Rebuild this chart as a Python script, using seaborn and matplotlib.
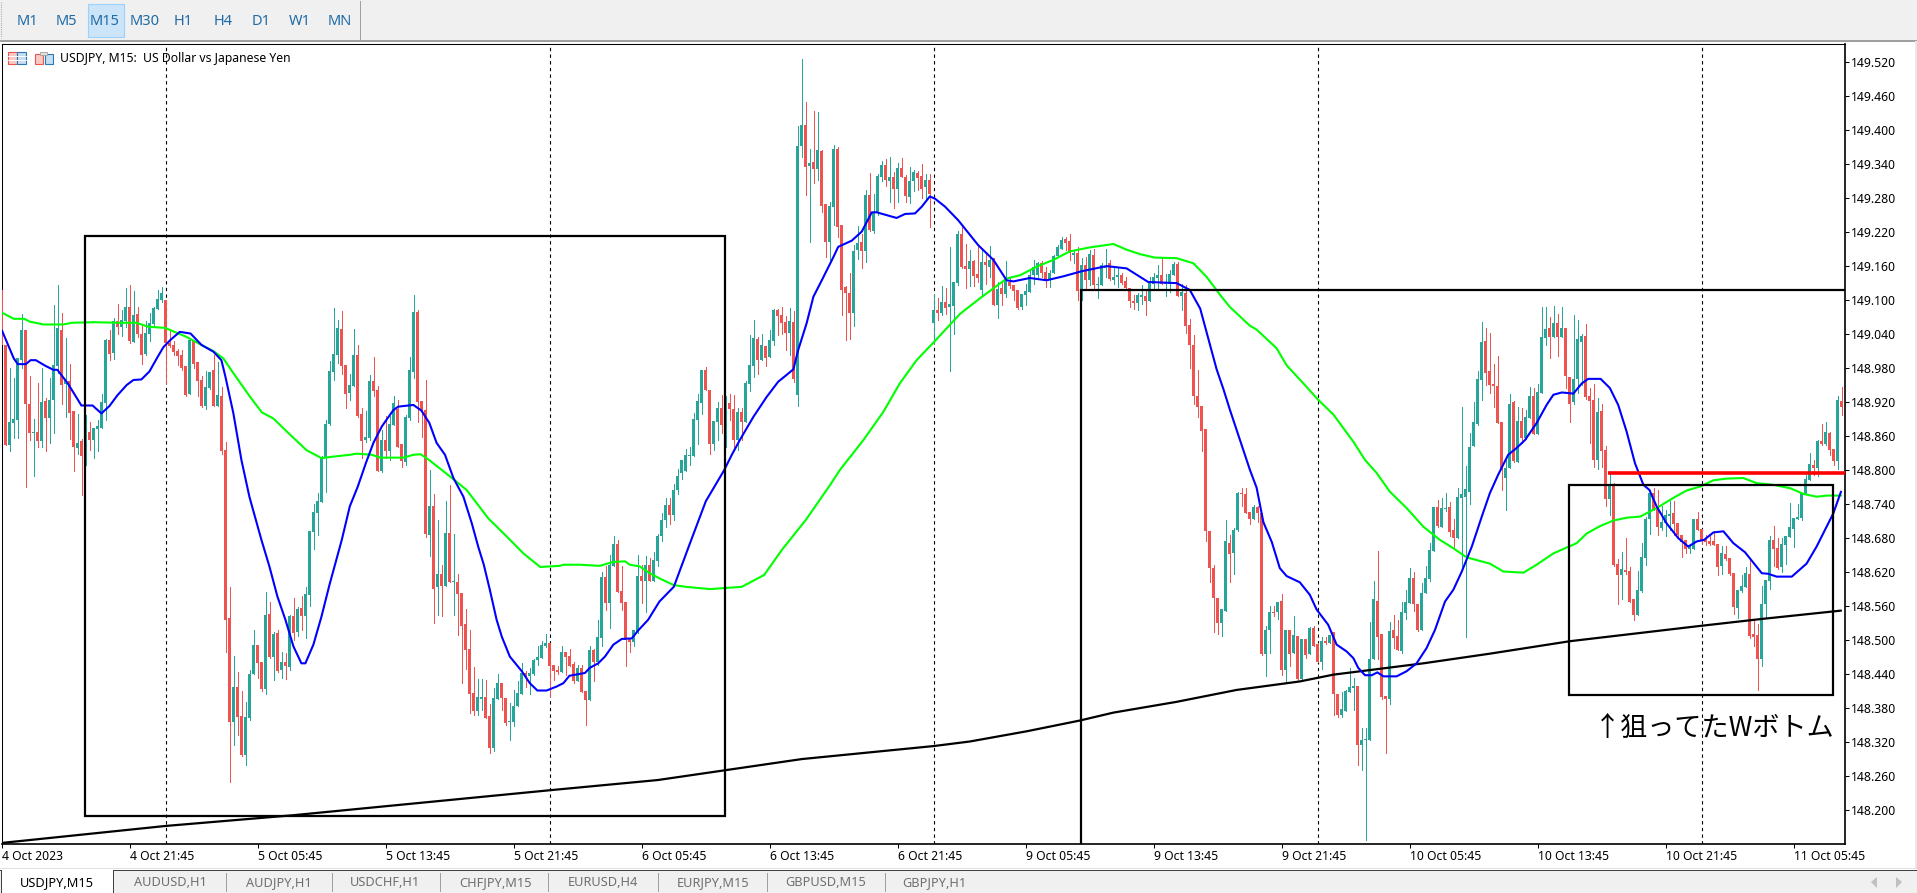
#!/usr/bin/env python3
import numpy as np
import matplotlib
matplotlib.use("Agg")
import matplotlib.pyplot as plt
from matplotlib.patches import Rectangle
import seaborn as sns

# USDJPY M15 candles
opens = [
    149.118,149.021,148.845,148.884,148.888,148.994,149.048,148.917,148.866,148.867,
    148.851,148.922,148.892,148.923,148.984,149.048,148.952,148.957,148.904,148.839,
    148.851,148.824,148.867,148.853,148.873,148.874,148.918,149.030,149.007,149.063,
    149.052,149.063,149.088,149.026,149.075,149.040,149.005,149.040,149.058,149.085,
    149.100,149.100,149.025,149.020,149.010,149.003,148.984,148.934,149.028,148.991,
    148.959,148.913,148.945,148.977,148.913,148.931,148.835,148.539,148.356,148.418,
    148.366,148.297,148.362,148.440,148.492,148.461,148.414,148.546,148.471,148.513,
    148.447,148.461,148.453,148.543,148.514,148.557,148.543,148.580,148.691,148.725,
    148.744,148.821,148.881,148.974,149.003,149.049,148.986,148.936,148.949,149.003,
    148.899,148.853,148.857,148.957,148.942,148.799,148.853,148.834,148.880,148.908,
    148.846,148.815,148.892,148.973,149.079,148.922,148.906,148.686,148.737,148.594,
    148.617,148.596,148.689,148.602,148.603,148.583,148.529,148.485,148.407,148.374,
    148.396,148.400,148.366,148.310,148.396,148.424,148.398,148.356,148.356,148.383,
    148.405,148.442,148.437,148.441,148.464,148.469,148.490,148.494,148.456,148.448,
    148.444,148.479,148.472,148.458,148.427,148.451,148.411,148.395,148.483,148.461,
    148.503,148.612,148.566,148.631,148.670,148.587,148.568,148.504,148.497,148.515,
    148.613,148.605,148.633,148.605,148.640,148.684,148.712,148.738,148.720,148.765,
    148.794,148.799,148.825,148.825,148.888,148.919,148.976,148.942,148.846,148.885,
    148.909,148.880,148.918,148.908,148.853,148.902,148.885,148.952,148.984,149.031,
    148.994,149.019,148.999,149.028,149.082,149.074,149.061,149.042,149.061,148.932,
    149.372,149.409,149.336,149.343,149.331,149.363,149.269,149.202,149.264,149.366,
    149.232,149.123,149.112,149.077,149.188,149.202,149.186,149.285,149.222,149.253,
    149.317,149.338,149.310,149.317,149.296,149.333,149.317,149.282,149.310,149.324,
    149.319,149.299,149.312,149.059,149.082,149.077,149.096,149.088,149.089,149.130,
    149.216,149.160,149.155,149.169,149.146,149.118,149.167,149.159,149.174,149.091,
    149.121,149.110,149.132,149.126,149.118,149.088,149.109,149.114,149.144,149.145,
    149.166,149.149,149.135,149.148,149.178,149.190,149.207,149.204,149.179,149.183,
    149.116,149.162,149.135,149.179,149.126,149.126,149.156,149.165,149.136,149.140,
    149.144,149.133,149.121,149.098,149.095,149.106,149.108,149.099,149.129,149.139,
    149.144,149.129,149.129,149.144,149.163,149.107,149.113,149.056,149.021,148.931,
    148.914,148.872,148.693,148.628,148.575,148.530,148.552,148.672,148.653,148.694,
    148.760,148.758,148.726,148.713,148.734,148.725,148.476,148.517,148.550,148.549,
    148.569,148.447,148.517,148.478,148.508,148.432,148.502,148.476,148.521,148.493,
    148.462,148.499,148.495,148.515,148.405,148.367,148.375,148.409,148.416,148.419,
    148.315,148.323,148.323,148.466,148.569,148.511,148.402,148.396,148.518,148.508,
    148.481,148.548,148.566,148.610,148.564,148.518,148.583,148.608,148.658,148.735,
    148.700,148.732,148.735,148.695,148.680,148.751,148.753,148.762,148.843,148.882,
    148.959,149.028,148.975,148.952,148.949,148.885,148.786,148.804,148.920,148.815,
    148.887,148.857,148.892,148.931,148.864,148.936,149.033,149.051,149.035,149.060,
    149.035,149.051,148.965,148.920,148.960,149.026,149.037,148.931,148.924,148.818,
    148.905,148.836,148.749,148.774,148.635,148.615,148.624,148.622,148.573,148.545,
    148.587,148.645,148.714,148.760,148.733,148.698,148.707,148.719,148.725,148.707,
    148.686,148.677,148.661,148.661,148.714,148.696,148.677,148.675,148.675,148.670,
    148.631,148.652,148.645,148.619,148.557,148.587,148.594,148.617,148.511,148.509,
    148.467,148.564,148.605,148.677,148.663,148.629,148.668,148.682,148.696,148.714,
    148.716,148.758,148.783,148.809,148.804,148.852,148.846,148.866,148.838,148.816,
    148.922,
]
closes = [
    149.021,148.845,148.885,148.890,148.997,149.048,148.917,148.866,148.867,148.851,
    148.920,148.892,148.924,148.985,149.050,148.950,148.959,148.900,148.841,148.848,
    148.824,148.865,148.853,148.874,148.878,148.920,149.030,149.005,149.063,149.053,
    149.065,149.088,149.028,149.074,149.040,149.003,149.042,149.059,149.086,149.102,
    149.112,149.024,149.019,149.008,149.001,148.980,148.932,149.030,148.987,148.957,
    148.913,148.947,148.973,148.913,148.932,148.834,148.536,148.355,148.418,148.364,
    148.297,148.365,148.440,148.492,148.459,148.414,148.544,148.470,148.511,148.446,
    148.461,148.454,148.543,148.513,148.555,148.543,148.581,148.693,148.726,148.745,
    148.821,148.881,148.975,149.005,149.051,148.984,148.935,148.950,149.003,148.896,
    148.852,148.858,148.957,148.940,148.799,148.853,148.834,148.882,148.918,148.841,
    148.816,148.894,148.977,149.079,148.920,148.906,148.688,148.737,148.591,148.617,
    148.596,148.689,148.603,148.603,148.582,148.525,148.483,148.405,148.374,148.400,
    148.400,148.363,148.310,148.398,148.424,148.398,148.354,148.358,148.384,148.407,
    148.442,148.436,148.442,148.465,148.470,148.492,148.495,148.455,148.446,148.444,
    148.479,148.471,148.455,148.427,148.451,148.409,148.395,148.483,148.462,148.506,
    148.612,148.566,148.633,148.670,148.585,148.566,148.501,148.497,148.517,148.613,
    148.605,148.633,148.605,148.642,148.684,148.712,148.738,148.720,148.765,148.790,
    148.817,148.826,148.827,148.891,148.922,148.976,148.941,148.846,148.887,148.909,
    148.880,148.918,148.908,148.853,148.902,148.885,148.954,148.985,149.033,148.994,
    149.021,148.998,149.029,149.082,149.072,149.059,149.042,149.063,148.961,149.372,
    149.409,149.335,149.342,149.331,149.365,149.266,149.202,149.266,149.366,149.229,
    149.118,149.112,149.077,149.186,149.201,149.186,149.285,149.223,149.255,149.319,
    149.338,149.312,149.317,149.296,149.333,149.317,149.283,149.310,149.326,149.315,
    149.296,149.312,149.287,149.082,149.077,149.096,149.086,149.093,149.132,149.216,
    149.158,149.155,149.169,149.142,149.139,149.167,149.162,149.171,149.091,149.119,
    149.111,149.135,149.125,149.116,149.086,149.110,149.116,149.144,149.159,149.165,
    149.147,149.135,149.147,149.178,149.193,149.206,149.201,149.183,149.183,149.116,
    149.162,149.135,149.181,149.126,149.129,149.162,149.158,149.138,149.140,149.144,
    149.130,149.121,149.098,149.095,149.109,149.109,149.098,149.130,149.140,149.144,
    149.129,149.131,149.146,149.163,149.107,149.114,149.054,149.021,148.931,148.912,
    148.869,148.692,148.628,148.575,148.530,148.554,148.674,148.652,148.694,148.760,
    148.757,148.725,148.713,148.735,148.725,148.476,148.518,148.550,148.547,148.568,
    148.447,148.517,148.476,148.509,148.432,148.502,148.474,148.521,148.490,148.462,
    148.499,148.494,148.509,148.404,148.367,148.379,148.411,148.418,148.419,148.315,
    148.324,148.326,148.467,148.573,148.505,148.400,148.396,148.516,148.504,148.483,
    148.550,148.568,148.610,148.564,148.517,148.583,148.610,148.659,148.735,148.702,
    148.733,148.733,148.691,148.680,148.753,148.758,148.767,148.841,148.885,148.961,
    149.026,148.971,148.950,148.949,148.883,148.800,148.804,148.917,148.816,148.887,
    148.857,148.894,148.931,148.864,148.938,149.035,149.049,149.035,149.060,149.035,
    149.051,148.966,148.917,148.961,149.032,149.037,148.929,148.922,148.818,148.903,
    148.834,148.749,148.774,148.633,148.615,148.626,148.621,148.568,148.545,148.589,
    148.647,148.714,148.760,148.732,148.700,148.709,148.721,148.723,148.705,148.686,
    148.673,148.661,148.668,148.714,148.695,148.675,148.673,148.670,148.668,148.629,
    148.654,148.643,148.617,148.559,148.589,148.596,148.619,148.508,148.506,148.467,
    148.564,148.606,148.677,148.661,148.628,148.670,148.684,148.700,148.716,148.718,
    148.760,148.785,148.811,148.804,148.852,148.846,148.868,148.836,148.816,148.924,
    148.912,
]
highs = [
    149.134,149.021,148.980,148.962,148.997,149.075,149.048,148.966,148.891,148.953,
    148.981,148.927,148.962,149.091,149.127,149.078,149.034,148.987,148.904,148.899,
    148.855,148.897,148.885,148.874,148.888,148.934,149.031,149.048,149.068,149.093,
    149.082,149.121,149.127,149.116,149.088,149.056,149.063,149.077,149.088,149.118,
    149.124,149.100,149.047,149.028,149.014,149.012,148.984,149.032,149.030,148.991,
    148.966,148.975,148.974,149.003,148.991,148.947,148.850,148.594,148.472,148.444,
    148.410,148.391,148.447,148.518,148.492,148.461,148.584,148.568,148.514,148.518,
    148.479,148.477,148.544,148.574,148.558,148.577,148.594,148.693,148.740,148.759,
    148.824,148.888,148.993,149.086,149.065,149.081,148.986,148.970,149.049,149.021,
    148.910,148.905,148.968,148.999,148.949,148.871,148.895,148.895,148.930,148.924,
    148.846,148.898,148.999,149.109,149.083,148.922,148.959,148.800,148.758,148.712,
    148.633,148.746,148.774,148.688,148.617,148.583,148.555,148.518,148.452,148.432,
    148.432,148.430,148.388,148.415,148.441,148.424,148.398,148.389,148.412,148.427,
    148.459,148.445,148.451,148.467,148.489,148.499,148.511,148.494,148.456,148.455,
    148.489,148.479,148.484,148.461,148.456,148.456,148.411,148.489,148.484,148.536,
    148.621,148.631,148.651,148.684,148.677,148.631,148.568,148.504,148.517,148.650,
    148.633,148.649,148.645,148.656,148.688,148.725,148.750,148.750,148.775,148.802,
    148.817,148.838,148.840,148.901,148.935,148.976,148.982,148.942,148.887,148.921,
    148.932,148.931,148.935,148.932,148.909,148.909,148.958,149.038,149.065,149.035,
    149.040,149.019,149.047,149.085,149.085,149.088,149.072,149.086,149.081,149.407,
    149.526,149.449,149.366,149.433,149.432,149.365,149.269,149.273,149.373,149.370,
    149.232,149.125,149.148,149.197,149.231,149.216,149.294,149.324,149.287,149.322,
    149.345,149.349,149.352,149.326,149.342,149.350,149.320,149.335,149.329,149.328,
    149.340,149.322,149.322,149.109,149.103,149.125,149.121,149.193,149.132,149.222,
    149.232,149.199,149.188,149.171,149.197,149.188,149.182,149.195,149.174,149.132,
    149.132,149.169,149.141,149.126,149.118,149.110,149.129,149.153,149.171,149.168,
    149.169,149.159,149.153,149.179,149.197,149.212,149.212,149.216,149.188,149.194,
    149.174,149.176,149.188,149.190,149.141,149.165,149.190,149.171,149.156,149.159,
    149.147,149.141,149.121,149.109,149.112,149.126,149.119,149.141,149.147,149.162,
    149.174,149.146,149.153,149.168,149.167,149.129,149.127,149.067,149.039,148.977,
    148.914,148.872,148.693,148.632,148.575,148.554,148.712,148.686,148.698,148.762,
    148.769,148.769,148.726,148.738,148.737,148.725,148.524,148.561,148.561,148.568,
    148.582,148.517,148.517,148.543,148.508,148.502,148.502,148.523,148.524,148.495,
    148.506,148.506,148.509,148.515,148.405,148.409,148.412,148.451,148.433,148.419,
    148.345,148.345,148.532,148.605,148.658,148.511,148.402,148.532,148.544,148.536,
    148.568,148.589,148.628,148.621,148.564,148.601,148.630,148.672,148.735,148.748,
    148.751,148.760,148.744,148.713,148.769,148.912,148.808,148.865,148.920,148.975,
    149.062,149.051,149.042,148.987,149.002,148.885,148.821,148.935,148.922,148.912,
    148.909,148.906,148.947,148.945,148.952,149.088,149.088,149.070,149.090,149.076,
    149.088,149.051,148.965,149.074,149.065,149.040,149.058,148.945,148.952,148.927,
    148.917,148.843,148.798,148.777,148.643,148.656,148.681,148.629,148.573,148.622,
    148.672,148.718,148.765,148.769,148.765,148.737,148.730,148.746,148.746,148.707,
    148.686,148.677,148.668,148.714,148.726,148.696,148.686,148.683,148.692,148.670,
    148.666,148.666,148.645,148.619,148.589,148.615,148.629,148.642,148.536,148.529,
    148.596,148.606,148.684,148.702,148.681,148.681,148.684,148.742,148.716,148.740,
    148.760,148.792,148.830,148.818,148.853,148.882,148.885,148.868,148.838,148.931,
    148.947,
]
lows = [
    149.021,148.845,148.834,148.856,148.856,148.981,148.771,148.853,148.790,148.841,
    148.841,148.833,148.848,148.866,148.971,148.917,148.894,148.855,148.798,148.828,
    148.756,148.809,148.835,148.822,148.833,148.874,148.888,148.994,148.996,149.041,
    149.037,149.053,149.025,149.026,149.035,148.987,149.003,149.028,149.056,149.084,
    149.097,148.953,149.017,149.003,148.985,148.977,148.931,148.934,148.980,148.931,
    148.911,148.908,148.944,148.913,148.913,148.828,148.479,148.249,148.315,148.333,
    148.296,148.280,148.359,148.440,148.433,148.410,148.405,148.468,148.430,148.443,
    148.433,148.431,148.447,148.500,148.507,148.518,148.503,148.560,148.661,148.686,
    148.744,148.762,148.880,148.959,148.989,148.970,148.910,148.924,148.949,148.893,
    148.822,148.849,148.853,148.931,148.799,148.797,148.821,148.817,148.880,148.841,
    148.806,148.809,148.889,148.962,148.885,148.859,148.682,148.648,148.531,148.545,
    148.543,148.596,148.603,148.545,148.509,148.424,148.449,148.371,148.368,148.368,
    148.376,148.363,148.300,148.304,148.396,148.377,148.351,148.324,148.348,148.383,
    148.404,148.418,148.404,148.439,148.456,148.468,148.488,148.399,148.430,148.441,
    148.443,148.439,148.455,148.425,148.427,148.408,148.351,148.395,148.427,148.456,
    148.490,148.553,148.522,148.631,148.585,148.553,148.455,148.479,148.490,148.512,
    148.565,148.550,148.605,148.605,148.631,148.675,148.700,148.705,148.712,148.758,
    148.785,148.799,148.809,148.825,148.846,148.899,148.941,148.828,148.835,148.853,
    148.865,148.841,148.888,148.841,148.835,148.853,148.885,148.940,148.965,148.969,
    148.994,148.984,148.999,149.021,149.038,149.041,149.012,149.003,148.955,148.913,
    149.353,149.285,149.202,149.306,149.312,149.255,149.176,149.171,149.232,149.211,
    149.074,149.029,149.031,149.054,149.172,149.156,149.167,149.222,149.218,149.250,
    149.310,149.301,149.273,149.262,149.273,149.317,149.273,149.271,149.292,149.294,
    149.280,149.276,149.229,149.024,149.065,149.074,149.075,148.975,149.040,149.126,
    149.156,149.121,149.125,149.125,149.132,149.109,149.129,149.140,149.091,149.068,
    149.091,149.106,149.121,149.100,149.085,149.084,149.091,149.114,149.129,149.141,
    149.141,149.124,149.124,149.148,149.178,149.190,149.188,149.171,149.165,149.100,
    149.100,149.118,149.126,149.118,149.103,149.126,149.141,149.135,149.129,149.124,
    149.129,149.118,149.088,149.085,149.082,149.094,149.074,149.099,149.118,149.118,
    149.129,149.107,149.115,149.144,149.107,149.082,149.042,148.980,148.917,148.893,
    148.833,148.674,148.602,148.515,148.510,148.508,148.552,148.602,148.616,148.692,
    148.737,148.725,148.704,148.713,148.708,148.474,148.436,148.478,148.542,148.537,
    148.439,148.427,148.454,148.477,148.430,148.430,148.468,148.476,148.490,148.462,
    148.449,148.493,148.495,148.367,148.365,148.365,148.375,148.408,148.377,148.280,
    148.270,148.147,148.323,148.466,148.466,148.396,148.300,148.388,148.486,148.483,
    148.477,148.538,148.565,148.552,148.516,148.518,148.583,148.605,148.658,148.699,
    148.700,148.727,148.683,148.662,148.680,148.627,148.506,148.740,148.842,148.880,
    148.924,148.950,148.936,148.911,148.883,148.764,148.730,148.804,148.815,148.815,
    148.848,148.855,148.892,148.864,148.864,148.936,149.021,148.998,149.035,149.002,
    149.035,148.945,148.885,148.917,148.936,148.950,148.926,148.848,148.806,148.802,
    148.806,148.737,148.721,148.631,148.564,148.573,148.617,148.568,148.536,148.545,
    148.585,148.633,148.688,148.730,148.686,148.695,148.684,148.695,148.686,148.684,
    148.646,148.653,148.653,148.661,148.695,148.671,148.668,148.668,148.668,148.615,
    148.617,148.642,148.615,148.546,148.539,148.585,148.594,148.504,148.490,148.412,
    148.454,148.539,148.591,148.630,148.626,148.621,148.635,148.682,148.665,148.714,
    148.712,148.758,148.783,148.792,148.789,148.845,148.845,148.827,148.809,148.802,
    148.897,
]

# moving averages, read at knots along each curve
blue_x = [0,3,4,6,7.2,8.5,10.9,12.9,13.9,16.5,19.9,22.7,24.9,26.9,28.9,31.2,32.9,34.9,36.9,38.9,
          40.4,42.2,44.5,47.2,49.9,52.9,54.9,55.9,57.9,59.9,61.9,64.9,66.9,68.9,70.9,72.9,74.9,75.9,77.9,79.9,
          81.9,85,87,89,91,92.9,95,97.9,99.1,102.9,104.9,106.9,108.7,110.8,112.9,115.4,117.5,119.1,120.5,122,
          123.7,125,127,130,132,133.9,136.2,138.7,140.4,141.9,145.8,147,149.1,150.8,152.9,155,157.5,159.1,161.6,164.4,
          168,172,176,180.6,182.5,184.5,187.9,191.2,194.1,196.2,197.9,199.1,201.2,202.9,205,207.9,209.1,212.5,215,217.5,
          218.7,223.7,225.8,228.3,230,232,233.3,235.8,239.1,244.1,247.9,251.2,252.9,257,261.2,265.4,270,276.2,281.2,286.6,
          293.7,297,299.6,303.7,305.4,307,309.5,312,313.7,315.4,317.5,319.5,321.2,324.5,327,328.7,331.6,333.7,336.2,337.9,
          339.1,340.8,342.5,343.9,345.4,348.7,351.2,353.7,356.2,358.3,360.8,362.9,365,367.5,370,372,374.1,376.6,378.7,380.8,
          383.7,386.2,387.9,390,392.9,395,396.6,399.7,402,404.1,406.2,408.3,410.4,411.9,413.7,416.2,419.1,421.6,423.7,425.6,
          427.9,430.4,432.9,435.8,440,441.6,443.7,447.5,451.2,453.7,456.2,457.9,459.8]
blue_y = [149.047,148.997,148.987,148.987,148.994,148.994,148.984,148.977,148.977,148.953,148.914,148.914,148.900,148.913,148.932,148.950,148.959,148.960,148.974,148.999,
          149.017,149.030,149.044,149.041,149.021,149.009,148.994,148.965,148.900,148.818,148.753,148.677,148.630,148.577,148.536,148.489,148.459,148.459,148.492,148.541,
          148.597,148.677,148.736,148.771,148.812,148.848,148.877,148.906,148.912,148.915,148.905,148.883,148.848,148.827,148.786,148.753,148.706,148.665,148.633,148.589,
          148.536,148.506,148.471,148.445,148.424,148.411,148.411,148.418,148.424,148.437,148.442,148.451,148.459,148.471,148.492,148.502,148.503,148.517,148.536,148.568,
          148.594,148.670,148.745,148.800,148.827,148.853,148.894,148.929,148.956,148.968,148.978,149.012,149.059,149.106,149.135,149.176,149.194,149.205,149.221,149.255,
          149.255,149.245,149.252,149.253,149.265,149.283,149.279,149.265,149.241,149.197,149.171,149.135,149.133,149.139,149.135,149.142,149.151,149.160,149.156,149.132,
          149.130,149.118,149.085,148.978,148.943,148.907,148.854,148.801,148.769,148.708,148.673,148.627,148.613,148.602,148.580,148.554,148.527,148.492,148.480,148.468,
          148.451,148.438,148.438,148.443,148.436,148.436,148.445,148.459,148.486,148.518,148.568,148.589,148.621,148.665,148.718,148.759,148.792,148.827,148.839,148.853,
          148.883,148.915,148.933,148.937,148.935,148.953,148.961,148.961,148.945,148.915,148.868,148.812,148.774,148.765,148.736,148.706,148.680,148.665,148.674,148.677,
          148.690,148.692,148.671,148.655,148.618,148.617,148.612,148.612,148.635,148.665,148.700,148.724,148.762]

green_x = [0,3,5.6,7,10.4,15.4,17.5,22.9,29.5,33.7,36.6,40.8,46.2,50.4,52.9,55.4,57.9,62,65,67.9,
           72,76.2,80,81.9,87,88.7,92.5,94.6,100.4,102.9,104.7,106.6,110.4,114.1,116.2,121.6,126.2,130.4,134.6,139.5,
           140.4,144.5,149.5,152.9,155.8,157,159.5,162,164.4,168,171,177,185,190.6,195,201,207,209.5,215.4,220.4,
           224.5,228.7,232.9,239.6,244.5,251.2,254.6,258.7,262.9,267,272,277.9,281.2,284.6,288.3,293.7,297.9,301.2,304.6,307,
           312,313.7,318.7,321.2,325.4,329.1,332.9,337.9,340.8,343.7,347,351.2,355.4,359.5,362.9,366.2,372,375.4,380.4,383.7,
           387.9,393.7,396.2,399.5,402.9,406.2,409.6,413.7,417.9,421.2,424.6,427.9,431.2,435.4,438.7,442.9,447.1,450.4,453.7,456.2,459.8]
green_y = [149.078,149.067,149.067,149.062,149.057,149.057,149.060,149.061,149.060,149.060,149.053,149.051,149.035,149.019,149.010,148.997,148.971,148.930,148.902,148.891,
           148.863,148.835,148.821,148.823,148.827,148.829,148.827,148.822,148.822,148.827,148.828,148.819,148.798,148.777,148.765,148.715,148.683,148.653,148.629,148.631,
           148.633,148.633,148.631,148.638,148.639,148.633,148.630,148.618,148.609,148.597,148.594,148.590,148.594,148.615,148.659,148.712,148.773,148.800,148.853,148.903,
           148.953,148.994,149.025,149.076,149.103,149.138,149.144,149.159,149.171,149.186,149.193,149.199,149.189,149.181,149.175,149.174,149.165,149.141,149.109,149.088,
           149.055,149.048,149.015,148.985,148.953,148.924,148.898,148.850,148.818,148.795,148.762,148.733,148.700,148.677,148.662,148.646,148.635,148.621,148.619,148.633,
           148.653,148.671,148.688,148.701,148.711,148.716,148.718,148.733,148.751,148.764,148.771,148.782,148.785,148.786,148.777,148.774,148.768,148.758,148.753,148.755,148.755]

black_x = [0,41,73,137,164,200,233,242,256.2,269.5,277.9,293.7,308.7,324.5,332.9,355.4,372,392,424.6,439.6,459.8]
black_y = [148.142,148.172,148.191,148.235,148.253,148.290,148.313,148.321,148.339,148.358,148.372,148.391,148.412,148.427,148.439,148.459,148.476,148.498,148.525,148.537,148.552]

separator_bars = [41, 137, 233, 329, 425]
x_tick_bars = [0, 32, 64, 96, 128, 160, 192, 224, 256, 288, 320, 352, 384, 416, 448]
x_tick_labels = ["4 Oct 2023", "4 Oct 21:45", "5 Oct 05:45", "5 Oct 13:45", "5 Oct 21:45",
                 "6 Oct 05:45", "6 Oct 13:45", "6 Oct 21:45", "9 Oct 05:45", "9 Oct 13:45",
                 "9 Oct 21:45", "10 Oct 05:45", "10 Oct 13:45", "10 Oct 21:45", "11 Oct 05:45"]
y_ticks = [148.20, 148.26, 148.32, 148.38, 148.44, 148.50, 148.56, 148.62, 148.68, 148.74, 148.80, 148.86,
           148.92, 148.98, 149.04, 149.10, 149.16, 149.22, 149.28, 149.34, 149.40, 149.46, 149.52]

timeframes = ["M1", "M5", "M15", "M30", "H1", "H4", "D1", "W1", "MN"]
timeframe_px = [27, 66.5, 105, 145, 183, 223, 261, 300, 340]
tabs = ["USDJPY,M15", "AUDUSD,H1", "AUDJPY,H1", "USDCHF,H1", "CHFJPY,M15",
        "EURUSD,H4", "EURJPY,M15", "GBPUSD,M15", "GBPJPY,H1"]
tab_px = [57, 170, 279, 385, 495, 603, 713, 826, 934]
tab_seps = [113, 226, 332, 440, 548, 658, 767, 885]

UP = "#26a69a"
DOWN = "#ef5350"

sns.set_theme(style="white")
plt.rcParams["font.family"] = ["Noto Sans", "Noto Sans CJK JP", "DejaVu Sans"]

W, H = 1917, 893
fig = plt.figure(figsize=(W / 100, H / 100), dpi=100)
left, right, top, bottom = 1.5, 1845, 44, 843.5
ax = fig.add_axes([left / W, 1 - bottom / H, (right - left) / W, (bottom - top) / H])

o = np.array(opens)
c = np.array(closes)
bars = np.arange(len(o))
colors = [UP if b >= a else DOWN for a, b in zip(o, c)]

for s in separator_bars:
    ax.axvline(s, color="black", lw=0.8, ls=(0, (3, 3)), zorder=1)

ax.vlines(bars, lows, highs, colors=colors, lw=0.6, zorder=2, antialiased=False)
ax.bar(bars, np.maximum(np.abs(c - o), 0.0018), bottom=np.minimum(o, c), width=0.76,
       color=colors, linewidth=0, zorder=3, antialiased=False)

sns.lineplot(x=black_x, y=black_y, color="black", linewidth=1.6, estimator=None, ax=ax, zorder=4)
sns.lineplot(x=green_x, y=green_y, color="#00ff00", linewidth=1.5, estimator=None, ax=ax, zorder=5)
sns.lineplot(x=blue_x, y=blue_y, color="#0000ff", linewidth=1.5, estimator=None, ax=ax, zorder=6)

# hand drawn boxes on the chart
box_kw = dict(fill=False, edgecolor="black", linewidth=1.6, zorder=7)
ax.add_patch(Rectangle((20.8, 148.189), 160, 1.024, **box_kw))
ax.add_patch(Rectangle((391.8, 148.403), 66.1, 0.371, **box_kw))
ax.plot([269.7, 269.7, 461], [148.0, 149.117, 149.117], color="black", lw=1.6, zorder=7, solid_joinstyle="miter")
ax.plot([401.6, 461], [148.795, 148.795], color="#ff0000", lw=2.6, zorder=7, solid_capstyle="butt")

ax.set_xlim(-0.075, 460.8)
ax.set_ylim(148.141, 149.552)
ax.set_xlabel("")
ax.set_ylabel("")
ax.set_xticks(x_tick_bars)
ax.set_xticklabels(x_tick_labels, ha="left", fontsize=8.8, color="black")
ax.set_yticks(y_ticks)
ax.set_yticklabels([f"{v:.3f}" for v in y_ticks], fontsize=8.8, color="black")
ax.yaxis.tick_right()
ax.tick_params(axis="both", length=3, width=0.75, direction="out", color="black", pad=1.5,
               bottom=True, right=True, left=False)
for side, lw in [("top", 0.75), ("left", 0.75), ("bottom", 1.2), ("right", 1.2)]:
    ax.spines[side].set_color("black")
    ax.spines[side].set_linewidth(lw)
    ax.spines[side].set_visible(True)

# terminal window around the chart, in pixel coordinates
ui = fig.add_axes([0, 0, 1, 1], zorder=5)
ui.set_xlim(0, W)
ui.set_ylim(H, 0)
ui.axis("off")


def box(x0, y0, x1, y1, fc, ec="none", lw=0):
    ui.add_patch(Rectangle((x0, y0), x1 - x0, y1 - y0, facecolor=fc, edgecolor=ec, linewidth=lw))


box(0, 0, W, 40, "#f0f0f0")
box(0, 40, W, 41.5, "#a0a0a0")
box(87.5, 3.5, 123.5, 36.5, "#cce4f7", "#99d1ff", 0.8)
box(360, 1, 361, 40, "#a0a0a0")
ui.plot([0.7, 0.7], [2, 38], color="#b0b0b0", lw=0.8, ls=(0, (1, 1)))
for name, px in zip(timeframes, timeframe_px):
    ui.text(px, 21.5, name, ha="center", va="center", fontsize=10.5, color="#1f6ba5")

# chart title with its two little icons
box(7.5, 52, 17, 64, "#f9c9c5", "#e8564d", 0.8)
box(17, 52, 26, 64, "#c5def2", "#2a7ab8", 0.8)
for y in [56, 60]:
    ui.plot([7.5, 26], [y, y], color="white", lw=0.7)
box(34.5, 54, 43, 64, "#f9c9c5", "#e8564d", 0.8)
box(45, 54, 53, 64, "#c5def2", "#2a7ab8", 0.8)
box(40, 51.5, 47, 55, "#e0e0e0", "#a0a0a0", 0.6)
ui.text(60.5, 58.5, "USDJPY, M15:  US Dollar vs Japanese Yen", ha="left", va="center", fontsize=8.8, color="black")

ui.text(1714, 728, "↑狙ってたWボトム", ha="center", va="center", fontsize=19.5,
        family=["Noto Sans CJK JP", "DejaVu Sans"], color="black")

# tab bar
box(0, 868, W, 869, "#e0e0e0")
box(0, 870, W, H, "#f0f0f0")
box(0, 870, W, 871, "#404040")
box(1, 870, 113, H, "white")
box(0.5, 870, 1.5, H, "#404040")
box(113, 870, 114, H, "#404040")
for px in tab_seps[1:]:
    box(px, 873, px + 1, H - 1, "#a0a0a0")
for i, (name, px) in enumerate(zip(tabs, tab_px)):
    ui.text(px, 882.5, name, ha="center", va="center", fontsize=9.2,
            color="black" if i == 0 else "#6f6f6f")
ui.fill([1877, 1871, 1877], [877, 882, 888], color="#c0c0c0", lw=0)
ui.fill([1896, 1902, 1896], [877, 882, 888], color="#c0c0c0", lw=0)
box(1915, 41, 1917, 868, "#e8e8e8")

fig.savefig("out.png", dpi=100)
